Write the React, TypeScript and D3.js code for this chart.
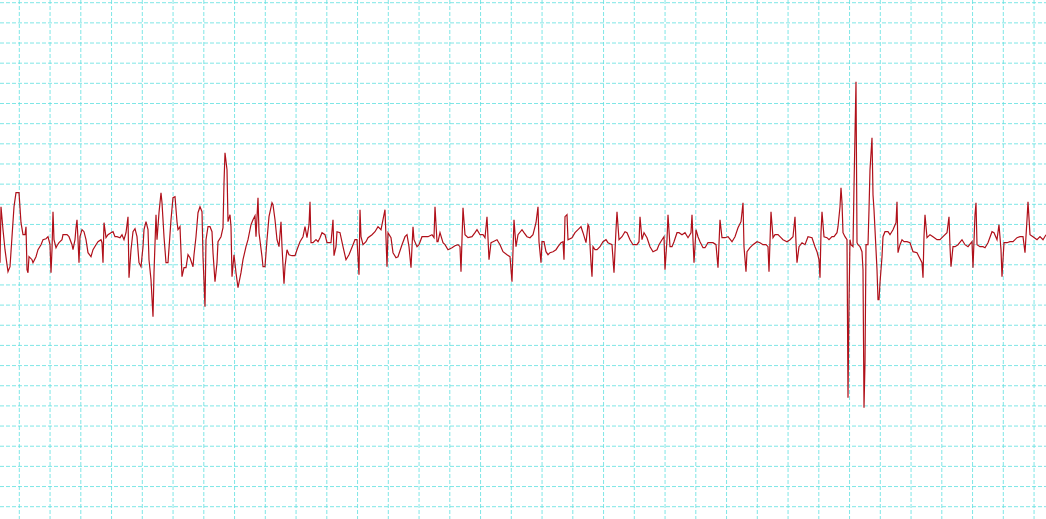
import React from 'react';
import * as d3 from 'd3';

const WIDTH = 1046;
const HEIGHT = 519;

// ECG trace: [sample position, amplitude (µV-like units)]
const trace: [number, number][] = [
  [0,-8],[1,48],[3,25],[5,5],[7,-10],[8,-17],[10,-12],[12,18],[14,48],[16,62],[19,62],[21,32],[23,20],[25,20],[26,28],[27,-15],[28,-18],[29,-2],[32,-5],[33,-8],[36,-2],[38,5],[41,10],[43,15],[46,16],[48,18],[50,10],[51,-18],[52,5],[53,43],[54,15],[56,7],[57,9],[59,12],[62,15],[63,20],[67,20],[69,18],[72,10],[73,5],[75,15],[76,27],[77,35],[78,15],[79,-8],[80,18],[82,25],[84,23],[86,15],[88,2],[91,-2],[93,5],[96,10],[98,13],[101,15],[102,12],[103,-8],[104,32],[106,17],[108,20],[111,22],[113,23],[115,18],[117,18],[120,17],[122,20],[124,15],[126,22],[128,38],[129,-23],
  [131,5],[133,23],[135,26],[137,18],[139,-8],[141,-12],[143,8],[144,25],[146,33],[148,25],[149,-5],[151,-25],[153,-62],[154,-18],[156,40],[157,15],[159,42],[161,62],[162,52],[164,18],[166,-8],[168,-8],[171,35],[173,57],[175,58],[177,33],[178,25],[180,28],[182,-22],[184,-13],[186,-13],[188,0],[190,-3],[193,-12],[194,0],[196,18],[198,42],[200,48],[202,43],[203,-2],[205,-52],[206,15],[208,28],[210,28],[212,23],[213,2],[215,-27],[217,-8],[218,13],[221,18],[223,27],[224,72],[225,102],[227,85],[228,33],[230,40],[231,28],[232,-22],[234,0],[236,-18],[238,-33],[239,-28],[241,-18],[243,-5],[246,8],[248,15],[251,30],[253,35],[255,39],
  [256,18],[258,57],[259,22],[262,-2],[263,-12],[265,-12],[267,15],[269,38],[272,52],[273,50],[275,35],[277,15],[279,8],[281,33],[282,8],[284,-29],[285,-12],[287,5],[289,0],[292,-1],[295,-1],[297,5],[300,13],[303,18],[305,28],[307,17],[309,30],[310,53],[311,12],[313,12],[316,15],[318,13],[320,17],[322,22],[325,20],[327,12],[331,12],[333,35],[334,-1],[336,8],[337,23],[340,22],[343,8],[346,-5],[349,0],[353,10],[355,15],[357,15],[359,-20],[360,45],[361,18],[363,10],[366,13],[368,17],[372,20],[375,23],[378,28],[381,25],[383,35],[385,45],[387,-12],[388,22],[391,17],[393,2],[396,-3],[398,-2],[402,10],[405,18],[407,20],[409,8],[411,-13],[413,28],[414,15],[417,8],[419,10],[422,18],[425,18],[428,18],[432,20],[434,17],[435,48],[437,13],[438,13],[440,22],[443,12],[445,10],[448,5],[452,7],[455,9],[458,10],[460,8],[461,-17],[463,47],[465,20],[468,17],[472,18],[475,22],[477,25],[480,20],[483,20],[485,17],[487,38],[489,-5],[491,12],[493,13],[497,15],[500,10],[503,3],[507,0],[510,-2],[512,-27],[514,35],[516,8],[518,20],[522,25],[524,22],[527,18],[530,17],[533,20],[536,32],[538,48],[539,13],[541,-8],[542,13],[544,13],[546,3],[548,0],
  [550,2],[553,3],[556,5],[558,8],[561,12],[563,13],[564,-5],[565,38],[567,40],[568,15],[572,17],[575,22],[578,25],[581,28],[583,22],[586,12],[588,30],[589,28],[591,-8],[592,-22],[593,8],[595,5],[597,5],[600,8],[603,13],[606,15],[608,12],[612,10],[614,-18],[616,25],[617,43],[619,15],[622,18],[625,23],[627,22],[630,15],[633,10],[637,10],[639,13],[640,38],[642,15],[644,22],[647,17],[650,8],[653,3],[657,5],[659,10],[662,15],[664,18],[665,-15],[667,15],[668,40],[670,8],[672,8],[674,13],[677,22],[679,22],[682,20],[685,22],[688,17],[691,22],[692,40],[693,15],[694,-8],[696,25],[698,18],[700,13],[703,7],[705,7],[708,12],[711,12],[713,12],[716,10],[718,-13],[720,35],[722,17],[725,17],[728,18],[732,13],[735,18],[738,27],[741,33],[743,52],[744,8],[746,-17],[747,3],[750,7],[753,10],[757,13],[760,12],[763,10],[766,10],[768,8],[769,-17],[771,43],[773,17],[775,20],[778,20],[781,17],[783,15],[787,13],[790,15],[793,18],[795,38],[796,12],[797,-8],[799,8],[802,12],[805,10],[808,18],[812,17],[815,8],[817,3],[819,-5],[820,-23],
  [821,22],[822,43],[824,18],[827,17],[829,15],[832,18],[834,18],[837,22],[838,28],[840,48],[841,67],[842,52],[843,22],[845,18],[847,15],[848,-143],[849,-48],[850,15],[851,10],[853,8],[854,68],[856,173],[857,12],[858,10],[860,8],[862,3],[863,-15],[864,-153],[865,-108],[866,10],[868,10],[869,45],[870,85],[872,117],[873,60],[874,45],[875,25],[876,5],[877,-15],[878,-45],[879,-45],[880,-28],[882,-2],[883,18],[885,23],[888,23],[890,20],[893,25],
  [896,32],[897,53],[898,2],[900,10],[902,15],[904,13],[907,13],[910,12],[913,3],[917,2],[919,-2],[922,-8],[923,-23],[924,18],[925,40],[927,17],[930,20],[933,18],[937,15],[940,15],[943,18],[947,22],[949,38],[950,8],[951,-12],[953,8],[955,8],[958,10],[962,15],[965,10],[968,8],[972,13],[973,-13],[975,40],[976,52],[977,10],[980,8],[983,8],[985,7],[988,12],[992,23],[994,22],[997,15],[999,30],[1001,5],[1002,-22],[1004,12],[1007,12],[1010,13],[1013,13],[1017,17],[1020,18],[1023,18],[1025,2],[1027,35],[1028,53],[1030,20],[1033,18],[1037,15],[1040,18],[1043,15],[1046,20]
];

// Grid: first vertical line (sample units) and spacing; amplitude grid spacing
const gridStartX = 19.3;
const gridStepX = 30.75;
const gridCountX = 34;
const ampMin = -252;
const ampMax = 252;
const gridStepAmp = 20.16;
const gridCountAmp = 26;

export default function App() {
  const x = d3.scaleLinear().domain([0, 1046]).range([0, WIDTH]);
  const y = d3.scaleLinear().domain([ampMin, ampMax]).range([506.7, 2.7]);
  const line = d3
    .line<[number, number]>()
    .x((d) => x(d[0]))
    .y((d) => y(d[1]))
    .curve(d3.curveLinear);

  const vGrid = d3.range(gridCountX).map((k) => gridStartX + gridStepX * k);
  const hGrid = d3.range(gridCountAmp).map((k) => ampMin + gridStepAmp * k);

  return (
    <svg
      width={WIDTH}
      height={HEIGHT}
      style={{ position: 'absolute', left: 0, top: 0, background: '#ffffff', display: 'block' }}
    >
      <g stroke="#5fe0e0" strokeOpacity={0.8} strokeWidth={1} strokeDasharray="4,2" fill="none">
        {hGrid.map((v, i) => (
          <line key={'h' + i} x1={0} x2={WIDTH} y1={y(v)} y2={y(v)} />
        ))}
        {vGrid.map((g, i) => (
          <line key={'v' + i} x1={x(g)} x2={x(g)} y1={0} y2={HEIGHT} />
        ))}
      </g>
      <path d={line(trace) || ''} fill="none" stroke="#b0101a" strokeWidth={1.2} strokeLinejoin="miter" />
    </svg>
  );
}
